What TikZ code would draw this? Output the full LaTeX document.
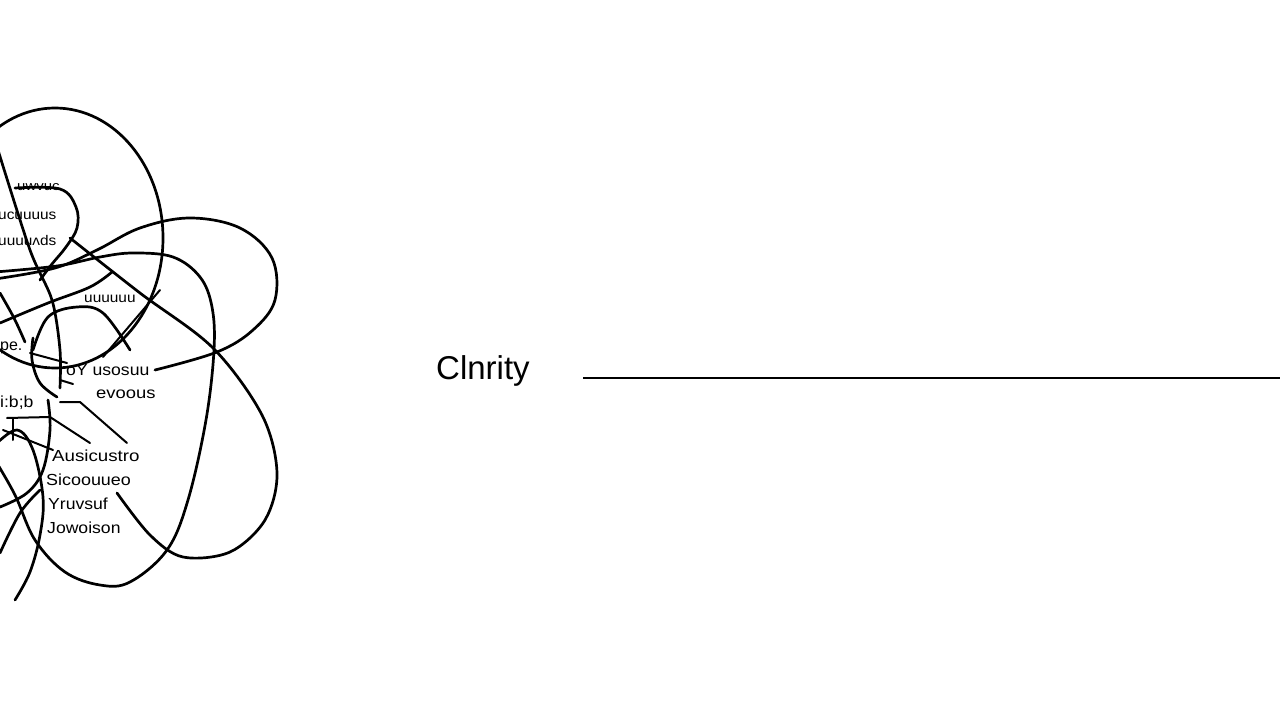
\documentclass[tikz,border=0pt]{standalone}
\usepackage{fontspec}
\setmainfont{Liberation Sans}
\begin{document}
\begin{tikzpicture}[x=1pt,y=-1pt,
  curve/.style={line width=2.7pt, line cap=round, line join=round},
  thin/.style={line width=2pt, line cap=round},
  lbl/.style={font=\fontsize{16}{16}\selectfont, inner sep=0pt, anchor=west},
  big/.style={font=\fontsize{33}{33}\selectfont, inner sep=0pt, anchor=west}]
\useasboundingbox (0,0) rectangle (1280,720);
\begin{scope}
\clip (0,0) rectangle (1280,720);
% big upper loop
\draw[curve] (55,238) ellipse [x radius=108pt, y radius=130pt];
% right upper loop
\draw[curve] plot[smooth, tension=0.6] coordinates {(-5,279) (55,268) (97,250) (140,228) (190,218) (240,228) (272,258) (275,300) (253,330) (217,352) (155,370)};
% long loop descending
\draw[curve] plot[smooth, tension=0.6] coordinates {(-5,272) (57,266) (100,257) (133,253) (173,257) (200,277) (212,307) (214,350) (206,420) (188,500) (167,550) (130,582) (100,585) (65,572) (35,540) (15,495) (-5,460)};
% diagonal into bottom-right loop
\draw[curve] plot[smooth, tension=0.55] coordinates {(70,238) (140,293) (213,348) (262,415) (277,473) (265,520) (230,552) (183,557) (150,535) (117,493)};
% small top loop
\draw[curve] plot[smooth, tension=0.6] coordinates {(15,188) (60,189) (76,207) (77,228) (66,247) (52,264) (40,280)};
% steep diagonal
\draw[curve] plot[smooth, tension=0.5] coordinates {(-2,150) (30,250) (52,300) (60,350) (60,388)};
% arch in the middle
\draw[curve] plot[smooth, tension=0.6] coordinates {(33,350) (48,317) (77,307) (103,313) (130,350)};
% crossing arc
\draw[curve] plot[smooth, tension=0.6] coordinates {(0,323) (48,303) (90,287) (112,272)};
% left lower loops
\draw[curve] plot[smooth, tension=0.6] coordinates {(-5,445) (17,430) (33,450) (43,497) (40,535) (30,572) (15,600)};
\draw[curve] plot[smooth, tension=0.6] coordinates {(0,507) (27,493) (43,470) (50,430) (48,400)};
\draw[curve] plot[smooth, tension=0.6] coordinates {(0,553) (20,513) (40,490)};
\draw[curve] plot[smooth, tension=0.6] coordinates {(0,293) (14,318) (25,342)};
\draw[curve] plot[smooth, tension=0.6] coordinates {(33,338) (32,360) (40,383) (57,397)};
% leaders and short strokes
\draw[thin] (30,353) -- (67,363);
\draw[thin] (103,357) -- (160,290);
\draw[thin] (60,402) -- (80,402) -- (127,443);
\draw[thin] (7,418) -- (50,417) -- (90,443);
\draw[thin] (13,418) -- (13,440);
\draw[thin] (3,430) -- (53,450);
\draw[thin] (60,380) -- (73,384);
\end{scope}
% labels
\node[lbl, font=\fontsize{13}{13}\selectfont] (t1) at (17,187) {\scalebox{1.15}[1]{uwvuc}};
\node[lbl, font=\fontsize{14}{14}\selectfont] (t2) at (-2,216) {\scalebox{1.1}[1]{ucuuuus}};
\node[lbl, font=\fontsize{14}{14}\selectfont] (t3) at (-2,240) {\scalebox{1.1}[1]{uuuuʌds}};
\node[lbl, font=\fontsize{14}{14}\selectfont] (t4) at (84,299) {\scalebox{1.1}[1]{uuuuuu}};
\node[lbl] (t5) at (0,348) {pe.};
\node[lbl] (t6) at (66,370) {\scalebox{1.1}[1]{oY usosuu}};
\node[lbl] (t7) at (96,394) {\scalebox{1.15}[1]{evoous}};
\node[lbl] (t8) at (0,403) {\scalebox{1.1}[1]{i:b;b}};
\node[lbl] (t9) at (52,456) {\scalebox{1.17}[1]{Ausicustro}};
\node[lbl] (t10) at (46,480) {\scalebox{1.12}[1]{Sicoouueo}};
\node[lbl] (t11) at (48,504) {\scalebox{1.1}[1]{Yruvsuf}};
\node[lbl] (t12) at (47,528) {\scalebox{1.1}[1]{Jowoison}};
\node[big] (clarity) at (436,371) {Clnrity};
\coordinate (lineA) at (583,378);
\coordinate (lineB) at (1280,378);
\draw[line width=2.8pt] (lineA) -- (lineB);
\end{tikzpicture}
\end{document}
